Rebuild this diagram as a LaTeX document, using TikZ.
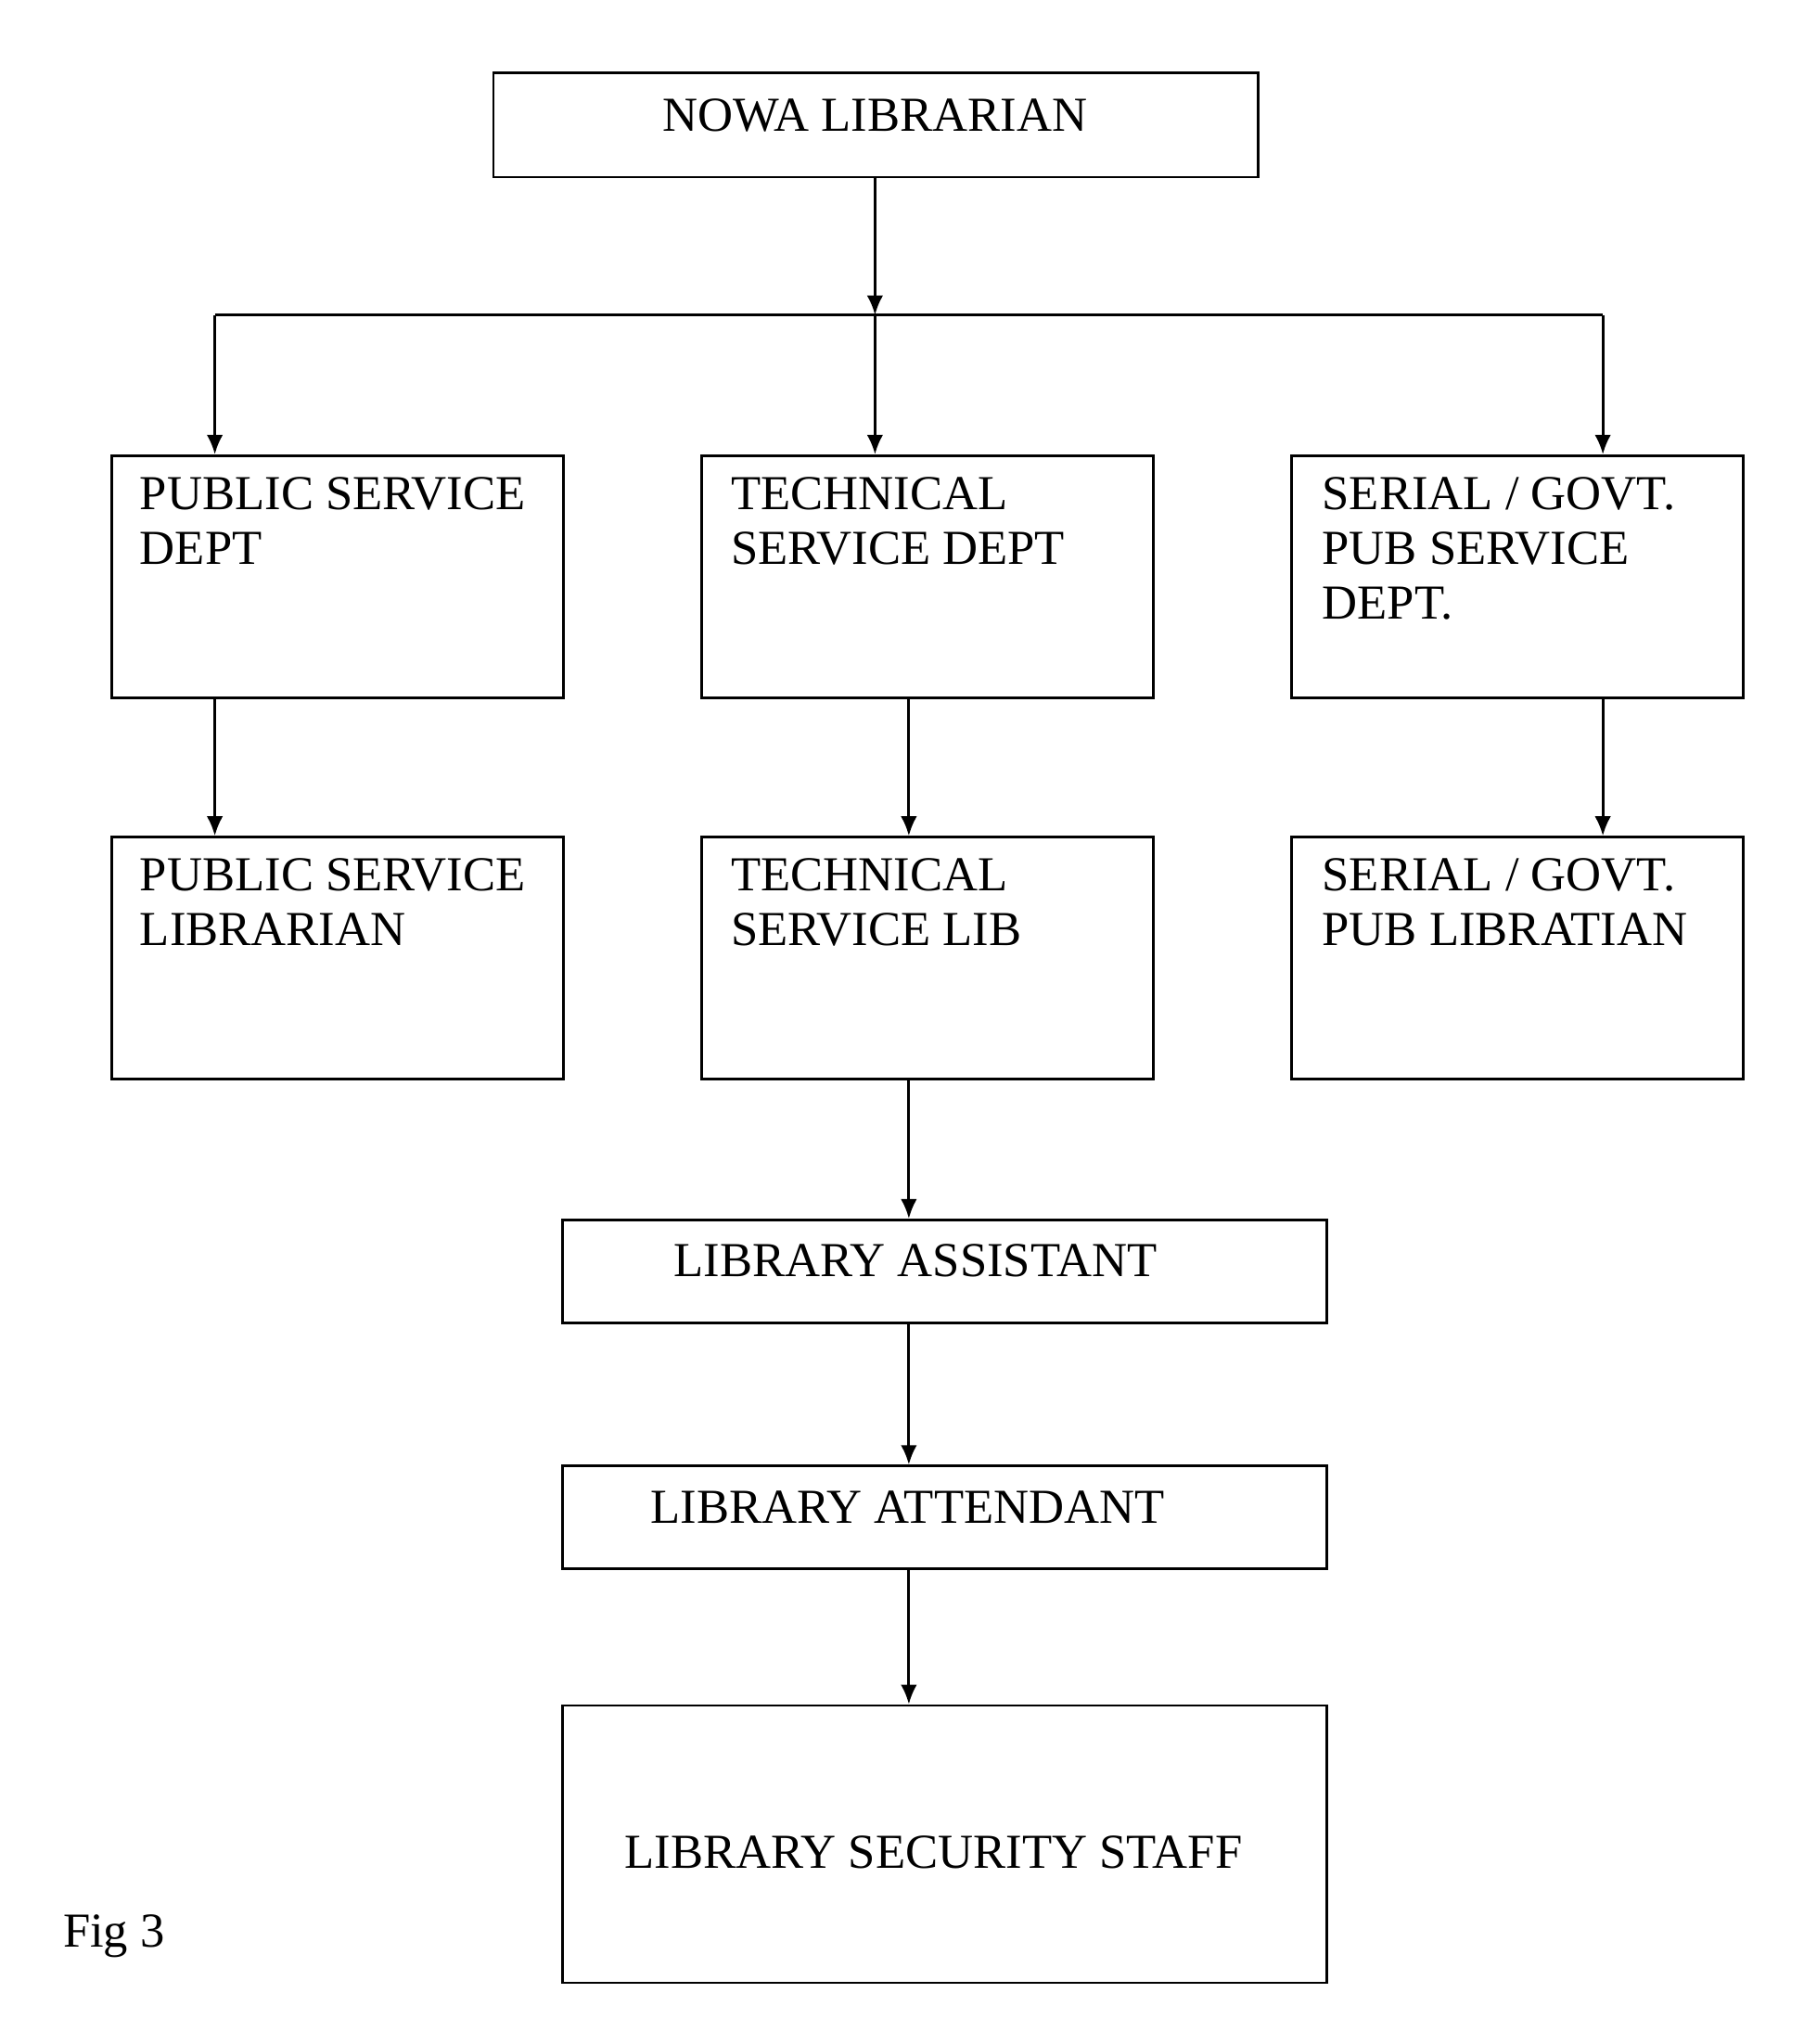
\documentclass[tikz,border=0pt]{standalone}
\usepackage{fontspec}
\setmainfont{Liberation Serif}
\usetikzlibrary{arrows.meta}
\begin{document}
\begin{tikzpicture}[x=0.4pt,y=-0.4pt,
  box/.style={draw,line width=0.8pt,anchor=north west,inner sep=0pt},
  txt/.style={anchor=north west,align=left,inner sep=0pt,font=\fontsize{15}{16.8}\selectfont},
  ctxt/.style={inner sep=0pt,font=\fontsize{15}{16.8}\selectfont},
  arr/.style={line width=0.8pt,-{Latex[length=6pt,width=5pt]}},
  ln/.style={line width=0.8pt}]
\useasboundingbox (0,0) rectangle (1385,1570);
\node[box,minimum width=235pt,minimum height=32pt] (nowa) at (378,55) {};
\node[ctxt] (nowat) at (672,89) {NOWA LIBRARIAN};
\foreach \n/\x/\y in {pd/85/349,td/538/349,sd/991/349,pl/85/642,tl/538/642,sl/991/642}
  \node[box,minimum width=138.8pt,minimum height=74.4pt] (\n) at (\x,\y) {};
\node[txt] (pdt) at (107,366) {PUBLIC SERVICE\\DEPT};
\node[txt] (tdt) at (561,366) {TECHNICAL\\SERVICE DEPT};
\node[txt] (sdt) at (1015,366) {SERIAL / GOVT.\\PUB SERVICE\\DEPT.};
\node[txt] (plt) at (107,659) {PUBLIC SERVICE\\LIBRARIAN};
\node[txt] (tlt) at (561,659) {TECHNICAL\\SERVICE LIB};
\node[txt] (slt) at (1015,659) {SERIAL / GOVT.\\PUB LIBRATIAN};
\node[box,minimum width=234.8pt,minimum height=31.6pt] (la) at (431,936) {};
\node[ctxt] (lat) at (703,968) {LIBRARY ASSISTANT};
\node[box,minimum width=234.8pt,minimum height=31.6pt] (lt) at (431,1125) {};
\node[ctxt] (ltt) at (697,1158) {LIBRARY ATTENDANT};
\node[box,minimum width=234.8pt,minimum height=85.2pt] (ls) at (431,1309) {};
\node[ctxt] (lst) at (717,1423) {LIBRARY SECURITY STAFF};
\node[ctxt,anchor=west] (fig) at (48,1487) {Fig 3};
\coordinate (b1) at (165,242);
\coordinate (b2) at (672,242);
\coordinate (b3) at (1231,242);
\coordinate (c2) at (698,0);
\draw[arr] (nowa.south -| b2) -- (b2);
\draw[ln] (b1) -- (b3);
\draw[arr] (b1) -- (b1 |- pd.north);
\draw[arr] (b2) -- (b2 |- td.north);
\draw[arr] (b3) -- (b3 |- sd.north);
\draw[arr] (b1 |- pd.south) -- (b1 |- pl.north);
\draw[arr] (c2 |- td.south) -- (c2 |- tl.north);
\draw[arr] (b3 |- sd.south) -- (b3 |- sl.north);
\draw[arr] (c2 |- tl.south) -- (c2 |- la.north);
\draw[arr] (c2 |- la.south) -- (c2 |- lt.north);
\draw[arr] (c2 |- lt.south) -- (c2 |- ls.north);
\end{tikzpicture}
\end{document}
